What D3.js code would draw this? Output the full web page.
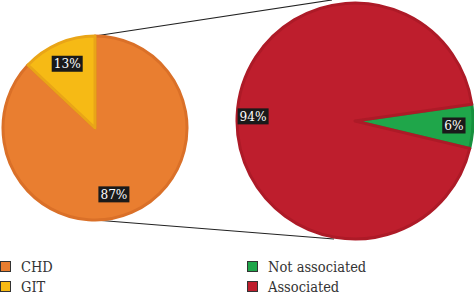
<!DOCTYPE html>
<html><head><meta charset="utf-8">
<script src="https://cdn.jsdelivr.net/npm/d3@7"></script>
<style>html,body{margin:0;padding:0;background:#fff;overflow:hidden}
.serif{font-family:"DejaVu Serif Condensed","DejaVu Serif",serif;font-stretch:condensed}</style>
</head><body>
<script>
const leftCategories = ["CHD", "GIT"];
const leftValues = [87, 13];
const rightCategories = ["Not associated", "Associated"];
const rightValues = [6, 94];

const W = 474, H = 297;
const svg = d3.select("body").append("svg").attr("width", W).attr("height", H);

const leftFill = {"CHD": "#E97E30", "GIT": "#F6BA15"};
const leftStroke = {"CHD": "#DA7028", "GIT": "#E9A517"};
const rightFill = {"Not associated": "#1FA64A", "Associated": "#BE1E2D"};
const rightStroke = {"Not associated": "#16903D", "Associated": "#AD1A27"};

const L = {cx: 95, cy: 128, r: 92};
const R = {cx: 355, cy: 121, r: 118};

// connector lines
svg.append("line").attr("x1", L.cx).attr("y1", L.cy - L.r).attr("x2", 332).attr("y2", 0)
  .attr("stroke", "#222").attr("stroke-width", 1.2);
svg.append("line").attr("x1", L.cx).attr("y1", L.cy + L.r).attr("x2", 334).attr("y2", 239)
  .attr("stroke", "#222").attr("stroke-width", 1.2);

function drawPie(cfg, cats, vals, fill, stroke, start, labelR, labelShift) {
  const data = cats.map((c, i) => ({cat: c, val: vals[i]}));
  const pie = d3.pie().sort(null).value(d => d.val).startAngle(start).endAngle(start + 2 * Math.PI);
  const arc = d3.arc().innerRadius(0).outerRadius(cfg.r);
  const g = svg.append("g").attr("transform", `translate(${cfg.cx},${cfg.cy})`);
  const arcs = pie(data);
  g.selectAll("path").data(arcs).join("path")
    .attr("d", arc)
    .attr("fill", d => fill[d.data.cat])
    .attr("stroke", d => stroke[d.data.cat])
    .attr("stroke-width", 3)
    .attr("stroke-linejoin", "round");
  arcs.forEach((d, i) => {
    const a = (d.startAngle + d.endAngle) / 2 + labelShift[i] * Math.PI / 180;
    const rr = labelR[i];
    const x = Math.sin(a) * rr, y = -Math.cos(a) * rr;
    const t = d.data.val + "%";
    const lg = g.append("g").attr("transform", `translate(${x},${y})`);
    const txt = lg.append("text").attr("class", "serif").attr("text-anchor", "middle").attr("dy", "0.35em")
      .style("font-size", "13.5px").attr("fill", "#fff").text(t);
    const bb = txt.node().getBBox();
    lg.insert("rect", "text").attr("x", bb.x - 2).attr("y", -8).attr("width", bb.width + 4).attr("height", 16)
      .attr("fill", "#1a1a1a");
  });
}

drawPie(L, leftCategories, leftValues, leftFill, leftStroke, 0, [69, 70], [7.5, 0]);
drawPie(R, rightCategories, rightValues, rightFill, rightStroke, 81.8 * Math.PI / 180, [99, 102], [0, 0]);

function legend(x, y, cats, fill) {
  cats.forEach((c, i) => {
    const yy = y + i * 20;
    svg.append("rect").attr("x", x + 0.5).attr("y", yy + 0.5).attr("width", 10).attr("height", 10)
      .attr("fill", fill[c]).attr("stroke", "#333").attr("stroke-width", 1);
    svg.append("text").attr("class", "serif").attr("x", x + 21).attr("y", yy + 11)
      .style("font-size", "14.5px").attr("fill", "#333").text(c);
  });
}
legend(0, 261, leftCategories, leftFill);
legend(247, 261, rightCategories, rightFill);
</script>
</body></html>
